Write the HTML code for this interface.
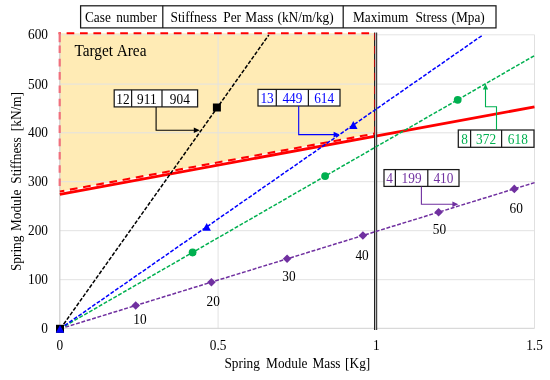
<!DOCTYPE html>
<html><head><meta charset="utf-8"><title>Spring Module Stiffness vs Mass</title>
<style>
html,body{margin:0;padding:0;background:#fff;}
body{width:550px;height:380px;overflow:hidden;}
svg{display:block;}
text{font-family:"Liberation Serif","Times New Roman",serif;font-size:13.33px;fill:#000;}
.pu{fill:#7030A0}.gr{fill:#00B050}.bl{fill:#0000FF}
</style></head><body>
<svg width="550" height="380" viewBox="0 0 550 380">
<rect width="550" height="380" fill="#fff"/>
<polygon points="59.8,33.2 374.6,33.2 374.6,133.6 59.8,191.5" fill="#FFEBB5"/>
<line x1="59.8" x2="534.5" y1="279.7" y2="279.7" stroke="#E2E2E2" stroke-width="1"/>
<line x1="59.8" x2="534.5" y1="230.7" y2="230.7" stroke="#E2E2E2" stroke-width="1"/>
<line x1="59.8" x2="534.5" y1="181.7" y2="181.7" stroke="#E2E2E2" stroke-width="1"/>
<line x1="59.8" x2="534.5" y1="132.8" y2="132.8" stroke="#E2E2E2" stroke-width="1"/>
<line x1="59.8" x2="534.5" y1="84.1" y2="84.1" stroke="#E2E2E2" stroke-width="1"/>
<line x1="59.8" x2="534.5" y1="34.8" y2="34.8" stroke="#E4E4E4" stroke-width="1"/>
<line x1="218.1" x2="218.1" y1="34.8" y2="328.3" stroke="#E2E2E2" stroke-width="1"/>
<line x1="534.5" x2="534.5" y1="34.8" y2="328.3" stroke="#E0E0E0" stroke-width="1"/>
<line x1="59.8" x2="59.8" y1="34.8" y2="328.8" stroke="#CCCCCC" stroke-width="1.2"/>
<line x1="59.8" x2="534.5" y1="328.3" y2="328.3" stroke="#D0D0D0" stroke-width="1"/>
<line x1="59.8" y1="194.3" x2="534.5" y2="106.9" stroke="#FF0000" stroke-width="2.8"/>
<line x1="375.6" x2="375.6" y1="32.6" y2="330" stroke="#BDBDBD" stroke-width="2.2"/>
<line x1="374.5" x2="374.5" y1="32.6" y2="330" stroke="#222" stroke-width="1"/>
<line x1="376.7" x2="376.7" y1="32.6" y2="330" stroke="#222" stroke-width="1"/>
<line x1="58.6" x2="374.6" y1="33.2" y2="33.2" stroke="#FF0000" stroke-width="2" stroke-dasharray="7.7 5.7" stroke-dashoffset="5.4"/>
<line x1="374.5" x2="374.5" y1="33.2" y2="133.6" stroke="#D00000" stroke-opacity="0.8" stroke-width="1.1" stroke-dasharray="7.7 5.7" stroke-dashoffset="0.6"/>
<line x1="374.6" x2="59.8" y1="133.6" y2="191.5" stroke="#FF0000" stroke-width="2.1" stroke-dasharray="7.7 5.7" stroke-dashoffset="6.1"/>
<line x1="59.7" x2="59.7" y1="32.2" y2="191.5" stroke="#F0707C" stroke-width="2.2" stroke-dasharray="10.1 3.2 7.6 5.7 7.6 5.7 7.6 5.7 7.6 5.7 7.6 5.7 7.6 5.7 7.6 5.7 7.6 5.7 7.6 5.7 7.6 5.7 7.6 5.7 7.6 5.7"/>
<line x1="60.0" y1="328.8" x2="534.6" y2="182.6" stroke="#7030A0" stroke-width="1.5" stroke-dasharray="3.9 1.7" fill="none"/>
<line x1="60.0" y1="328.8" x2="534.6" y2="55.5" stroke="#00B050" stroke-width="1.5" stroke-dasharray="3.9 1.7" fill="none"/>
<line x1="60.0" y1="328.8" x2="482.8" y2="35.0" stroke="#0000FF" stroke-width="1.5" stroke-dasharray="3.9 1.7" fill="none"/>
<line x1="60.4" y1="328.8" x2="268.8" y2="35.0" stroke="#000" stroke-width="1.5" stroke-dasharray="3.9 1.7" fill="none"/>
<path d="M131.4,305.5 L135.7,301.2 L140.0,305.5 L135.7,309.8Z" fill="#7030A0"/>
<path d="M207.1,282.2 L211.4,277.9 L215.7,282.2 L211.4,286.5Z" fill="#7030A0"/>
<path d="M282.8,258.8 L287.1,254.5 L291.4,258.8 L287.1,263.1Z" fill="#7030A0"/>
<path d="M358.6,235.5 L362.9,231.2 L367.2,235.5 L362.9,239.8Z" fill="#7030A0"/>
<path d="M434.3,212.2 L438.6,207.9 L442.9,212.2 L438.6,216.5Z" fill="#7030A0"/>
<path d="M510.0,188.9 L514.3,184.6 L518.6,188.9 L514.3,193.2Z" fill="#7030A0"/>
<circle cx="192.6" cy="252.5" r="3.9" fill="#00B050"/>
<circle cx="325.1" cy="176.1" r="3.9" fill="#00B050"/>
<circle cx="457.7" cy="99.8" r="3.9" fill="#00B050"/>
<rect x="212.9" y="103.5" width="8" height="8" fill="#000"/>
<rect x="56.0" y="324.8" width="8" height="8" fill="#000"/>
<path d="M55.8,332.7 L60.0,324.9 L64.2,332.7Z" fill="#0000FF"/>
<path d="M202.5,230.8 L206.7,223.0 L210.9,230.8Z" fill="#0000FF"/>
<path d="M349.1,128.9 L353.3,121.1 L357.5,128.9Z" fill="#0000FF"/>
<text transform="translate(48.0 332.9) scale(1 1.12)" text-anchor="end">0</text>
<text transform="translate(48.0 284.3) scale(1 1.12)" text-anchor="end">100</text>
<text transform="translate(48.0 235.3) scale(1 1.12)" text-anchor="end">200</text>
<text transform="translate(48.0 186.3) scale(1 1.12)" text-anchor="end">300</text>
<text transform="translate(48.0 137.4) scale(1 1.12)" text-anchor="end">400</text>
<text transform="translate(48.0 88.7) scale(1 1.12)" text-anchor="end">500</text>
<text transform="translate(48.0 39.4) scale(1 1.12)" text-anchor="end">600</text>
<text transform="translate(59.8 349.8) scale(1 1.12)" text-anchor="middle">0</text>
<text transform="translate(218.1 349.8) scale(1 1.12)" text-anchor="middle">0.5</text>
<text transform="translate(376.3 349.8) scale(1 1.12)" text-anchor="middle">1</text>
<text transform="translate(534.5 349.8) scale(1 1.12)" text-anchor="middle">1.5</text>
<text transform="translate(140.0 324.4) scale(1 1.12)" text-anchor="middle">10</text>
<text transform="translate(213.2 305.5) scale(1 1.12)" text-anchor="middle">20</text>
<text transform="translate(288.9 280.6) scale(1 1.12)" text-anchor="middle">30</text>
<text transform="translate(362.1 259.5) scale(1 1.12)" text-anchor="middle">40</text>
<text transform="translate(439.5 233.7) scale(1 1.12)" text-anchor="middle">50</text>
<text transform="translate(516.2 213.0) scale(1 1.12)" text-anchor="middle">60</text>
<text transform="translate(0 368.2) scale(1 1.12)"><tspan x="224.4">Spring</tspan> <tspan x="266.1">Module</tspan> <tspan x="312.4">Mass</tspan> <tspan x="345.1">[Kg]</tspan></text>
<text transform="translate(20.7,0) rotate(-90) scale(1 1.06)" y="0"><tspan x="-271.1">Spring</tspan> <tspan x="-231.1">Module</tspan> <tspan x="-183.7">Stiffness</tspan> <tspan x="-131.2">[kN/m]</tspan></text>
<text transform="translate(74.4 56.2) scale(1 1.07)" style="font-size:15.3px;word-spacing:0.8px">Target Area</text>
<rect x="80.6" y="5.8" width="415.4" height="22.1" fill="#fff" stroke="#1a1a1a" stroke-width="1.25"/>
<line x1="162.8" x2="162.8" y1="5.8" y2="27.9" stroke="#1a1a1a" stroke-width="1.25"/>
<line x1="343.2" x2="343.2" y1="5.8" y2="27.9" stroke="#1a1a1a" stroke-width="1.25"/>
<text transform="translate(0 21.6) scale(1 1.12)"><tspan x="85.0">Case</tspan> <tspan x="116.2">number</tspan></text>
<text transform="translate(0 21.6) scale(1 1.12)"><tspan x="170.5">Stiffness</tspan> <tspan x="223.3">Per</tspan> <tspan x="245.3">Mass</tspan> <tspan x="277.5">(kN/m/kg)</tspan></text>
<text transform="translate(0 21.6) scale(1 1.12)"><tspan x="352.9">Maximum</tspan> <tspan x="415.4">Stress</tspan> <tspan x="451.5">(Mpa)</tspan></text>
<rect x="114.2" y="89.9" width="83.4" height="17.0" fill="#fff" stroke="#1a1a1a" stroke-width="1.25"/>
<line x1="131.6" x2="131.6" y1="89.9" y2="106.9" stroke="#1a1a1a" stroke-width="1.25"/>
<line x1="162.0" x2="162.0" y1="89.9" y2="106.9" stroke="#1a1a1a" stroke-width="1.25"/>
<text transform="translate(122.9 103.9) scale(1 1.12)" text-anchor="middle">12</text>
<text transform="translate(146.8 103.9) scale(1 1.12)" text-anchor="middle">911</text>
<text transform="translate(179.8 103.9) scale(1 1.12)" text-anchor="middle">904</text>
<polyline points="156.1,106.9 156.1,130.3 195,130.3" fill="none" stroke="#000" stroke-width="1.1"/>
<path d="M199.8,130.3 L193.8,127.5 L193.8,133.1Z" fill="#000"/>
<rect x="258" y="89.4" width="82.0" height="16.6" fill="#fff" stroke="#1a1a1a" stroke-width="1.25"/>
<line x1="276.3" x2="276.3" y1="89.4" y2="106" stroke="#1a1a1a" stroke-width="1.25"/>
<line x1="308.4" x2="308.4" y1="89.4" y2="106" stroke="#1a1a1a" stroke-width="1.25"/>
<text transform="translate(267.1 103.0) scale(1 1.12)" text-anchor="middle" class="bl">13</text>
<text transform="translate(292.4 103.0) scale(1 1.12)" text-anchor="middle" class="bl">449</text>
<text transform="translate(324.2 103.0) scale(1 1.12)" text-anchor="middle" class="bl">614</text>
<polyline points="298.7,106 298.7,134.6 335,134.6" fill="none" stroke="#0000FF" stroke-width="1.1"/>
<path d="M339.5,134.6 L333.6,131.8 L333.6,137.4Z" fill="#0000FF"/>
<rect x="458.3" y="130" width="75.7" height="17.3" fill="#fff" stroke="#1a1a1a" stroke-width="1.25"/>
<line x1="470.6" x2="470.6" y1="130" y2="147.3" stroke="#1a1a1a" stroke-width="1.25"/>
<line x1="501.6" x2="501.6" y1="130" y2="147.3" stroke="#1a1a1a" stroke-width="1.25"/>
<text transform="translate(464.5 144.3) scale(1 1.12)" text-anchor="middle" class="gr">8</text>
<text transform="translate(486.1 144.3) scale(1 1.12)" text-anchor="middle" class="gr">372</text>
<text transform="translate(517.8 144.3) scale(1 1.12)" text-anchor="middle" class="gr">618</text>
<polyline points="496.5,130 496.5,106.8 485.5,106.8 485.5,88" fill="none" stroke="#00B050" stroke-width="1.1"/>
<path d="M485.5,83.8 L482.9,89.4 L488.1,89.4Z" fill="#00B050"/>
<rect x="384" y="169.6" width="75.0" height="16.8" fill="#fff" stroke="#1a1a1a" stroke-width="1.25"/>
<line x1="395.4" x2="395.4" y1="169.6" y2="186.4" stroke="#1a1a1a" stroke-width="1.25"/>
<line x1="427.8" x2="427.8" y1="169.6" y2="186.4" stroke="#1a1a1a" stroke-width="1.25"/>
<text transform="translate(389.7 183.4) scale(1 1.12)" text-anchor="middle" class="pu">4</text>
<text transform="translate(411.6 183.4) scale(1 1.12)" text-anchor="middle" class="pu">199</text>
<text transform="translate(443.4 183.4) scale(1 1.12)" text-anchor="middle" class="pu">410</text>
<polyline points="421.4,186.4 421.4,204.2 454,204.2" fill="none" stroke="#7030A0" stroke-width="1.1"/>
<path d="M458.3,204.2 L452.4,201.4 L452.4,207Z" fill="#7030A0"/>
</svg></body></html>
